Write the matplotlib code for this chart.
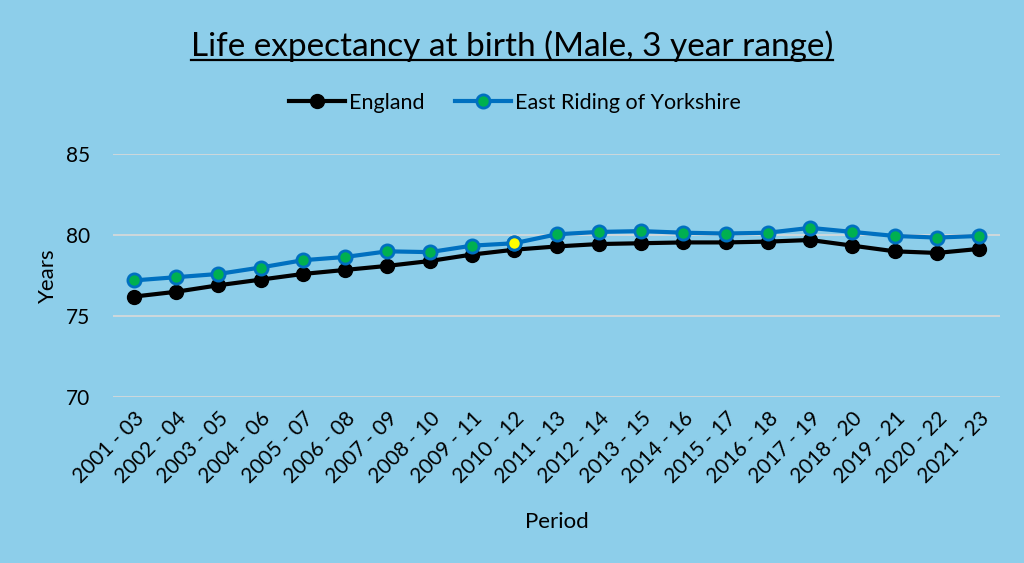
import matplotlib
matplotlib.use("Agg")
from matplotlib import pyplot as plt
from matplotlib.lines import Line2D
import numpy as np

# Data
periods = ["2001 - 03", "2002 - 04", "2003 - 05", "2004 - 06", "2005 - 07",
           "2006 - 08", "2007 - 09", "2008 - 10", "2009 - 11", "2010 - 12",
           "2011 - 13", "2012 - 14", "2013 - 15", "2014 - 16", "2015 - 17",
           "2016 - 18", "2017 - 19", "2018 - 20", "2019 - 21", "2020 - 22",
           "2021 - 23"]
england = [76.2, 76.5, 76.9, 77.25, 77.6, 77.85, 78.1, 78.4, 78.8, 79.1,
           79.3, 79.45, 79.5, 79.55, 79.55, 79.6, 79.7, 79.35, 79.0, 78.9, 79.15]
east_riding = [77.2, 77.4, 77.6, 78.0, 78.45, 78.65, 79.0, 78.95, 79.35, 79.5,
               80.05, 80.2, 80.25, 80.15, 80.1, 80.15, 80.45, 80.2, 79.95, 79.85, 79.95]
highlight = "2010 - 12"
y_ticks = [70, 75, 80, 85]

bg = "#8DCEEA"
plt.rcParams['font.family'] = ['Lato', 'DejaVu Sans']

fig = plt.figure(figsize=(10.24, 5.63), dpi=100, facecolor=bg)
ax = fig.add_axes([0.110, 0.295, 0.867, 0.431], facecolor=bg)

x = np.arange(len(periods))
ax.plot(x, england, color="black", lw=3, marker="o", ms=10,
        mfc="black", mec="black", label="England", zorder=3)
ax.plot(x, east_riding, color="#0070C0", lw=3, marker="o", ms=9.5,
        mfc="#00B050", mec="#0070C0", mew=2, label="East Riding of Yorkshire", zorder=4)

# highlighted point
hi = periods.index(highlight)
ax.plot(x[hi], east_riding[hi], marker="o", ms=9.5, mfc="#FFFF00",
        mec="#0070C0", mew=2, zorder=5)

ax.set_xlim(-0.5, len(periods) - 0.5)
ax.set_ylim(70, 85)
ax.set_yticks(y_ticks)
ax.set_xticks(x)
ax.set_xticklabels(periods, rotation=45, ha="right", rotation_mode="anchor")
ax.tick_params(axis="both", length=0, labelsize=15, colors="black")
ax.tick_params(axis="y", pad=16)
ax.tick_params(axis="x", pad=8)
ax.grid(axis="y", color="#D9D9D9", lw=1.2)
ax.set_axisbelow(True)
for s in ax.spines.values():
    s.set_visible(False)

ax.set_ylabel("Years", fontsize=16, labelpad=6)
ax.set_xlabel("Period", fontsize=16, labelpad=18)

title = fig.text(0.5, 0.918, "Life expectancy at birth (Male, 3 year range)",
                 ha="center", va="center", fontsize=24)
# underline the title
fig.canvas.draw()
bb = title.get_window_extent().transformed(fig.transFigure.inverted())
fig.add_artist(Line2D([bb.x0, bb.x1], [bb.y0 + 0.003, bb.y0 + 0.003],
                      color="black", lw=1.6, transform=fig.transFigure))

fig.legend(loc="center", bbox_to_anchor=(0.503, 0.817), ncol=2, frameon=False,
           fontsize=15.5, handlelength=2.6, columnspacing=1.4, handletextpad=0.2)

fig.savefig("out.png", dpi=100, facecolor=bg)
